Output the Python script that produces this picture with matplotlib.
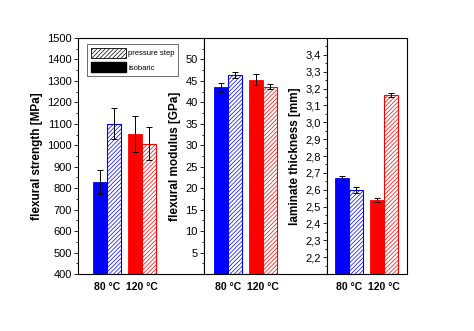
import numpy as np
import matplotlib
matplotlib.use('Agg')
import matplotlib.pyplot as plt
from matplotlib.patches import Patch
from matplotlib.ticker import MultipleLocator, FuncFormatter

plt.rcParams['font.family'] = ['Liberation Sans', 'DejaVu Sans']
plt.rcParams['hatch.linewidth'] = 0.5

# data
temps = ['80 °C', '120 °C']
colors = ['#0000ff', '#ff0000']

strength_iso = [828, 1052]
strength_iso_err = [57, 83]
strength_ps = [1100, 1007]
strength_ps_err = [73, 76]

modulus_iso = [43.5, 45.3]
modulus_iso_err = [1.1, 1.2]
modulus_ps = [46.3, 43.6]
modulus_ps_err = [0.7, 0.6]

thick_iso = [2.672, 2.540]
thick_iso_err = [0.008, 0.010]
thick_ps = [2.599, 3.161]
thick_ps_err = [0.02, 0.01]

W, H = 474, 331
fig = plt.figure(figsize=(W / 100, H / 100), dpi=100)


def px_axes(x0, x1, y0=38, y1=274):
    return fig.add_axes([x0 / W, (H - y1) / H, (x1 - x0) / W, (y1 - y0) / H])


def bars(ax, iso, iso_err, ps, ps_err, xlim):
    x = np.arange(len(temps))
    w = 0.41
    for i in range(len(temps)):
        ax.bar(x[i] - w / 2, iso[i], w, color=colors[i], edgecolor=colors[i],
               linewidth=0.6, yerr=iso_err[i], capsize=2,
               error_kw=dict(elinewidth=0.7, capthick=0.7, ecolor='black'))
        ax.bar(x[i] + w / 2, ps[i], w, color='white', edgecolor=colors[i],
               hatch='////////', linewidth=0.8, yerr=ps_err[i], capsize=2,
               error_kw=dict(elinewidth=0.7, capthick=0.7, ecolor='black'))
    ax.set_xlim(*xlim)
    ax.set_xticks(x)
    ax.set_xticklabels(temps, fontweight='bold', fontsize=7.5)
    ax.tick_params(axis='x', length=0, pad=6)
    ax.tick_params(axis='y', which='major', direction='out', length=3,
                   width=0.6, labelsize=8, pad=1.5)
    ax.tick_params(axis='y', which='minor', direction='out', length=1.5,
                   width=0.6)
    for s in ax.spines.values():
        s.set_linewidth(0.8)


ax1 = px_axes(78, 204)
bars(ax1, strength_iso, strength_iso_err, strength_ps, strength_ps_err,
     (-0.83, 2.77))
ax1.set_ylim(400, 1500)
ax1.yaxis.set_major_locator(MultipleLocator(100))
ax1.yaxis.set_minor_locator(MultipleLocator(50))
ax1.set_ylabel('flexural strength [MPa]', fontweight='bold', fontsize=8.5,
               labelpad=3)
leg = ax1.legend(handles=[Patch(facecolor='white', edgecolor='black',
                                hatch='////////', linewidth=0.6),
                          Patch(facecolor='black', edgecolor='black')],
                 labels=['pressure step', 'isobaric'], loc='upper left',
                 bbox_to_anchor=(0.07, 0.975), fontsize=5.5, handlelength=4.6,
                 handleheight=1.6, handletextpad=0.3, borderpad=0.5,
                 labelspacing=0.6, fancybox=False, framealpha=1,
                 borderaxespad=0)
leg.get_frame().set_edgecolor('#555555')
leg.get_frame().set_linewidth(0.6)

ax2 = px_axes(204, 327)
bars(ax2, modulus_iso, modulus_iso_err, modulus_ps, modulus_ps_err,
     (-0.686, 2.83))
ax2.set_ylim(0, 55)
ax2.set_yticks(np.arange(5, 55, 5))
ax2.yaxis.set_minor_locator(MultipleLocator(2.5))
ax2.set_ylabel('flexural modulus [GPa]', fontweight='bold', fontsize=8.5,
               labelpad=3)

ax3 = px_axes(327, 407)
bars(ax3, thick_iso, thick_iso_err, thick_ps, thick_ps_err, (-0.63, 1.66))
ax3.set_ylim(2.1, 3.5)
ax3.set_yticks(np.round(np.arange(2.2, 3.45, 0.1), 1))
ax3.yaxis.set_minor_locator(MultipleLocator(0.05))
ax3.yaxis.set_major_formatter(FuncFormatter(lambda v, p: f'{v:.1f}'.replace('.', ',')))
ax3.set_ylabel('laminate thickness [mm]', fontweight='bold', fontsize=8.5,
               labelpad=3)

fig.savefig('out.png', dpi=100)
